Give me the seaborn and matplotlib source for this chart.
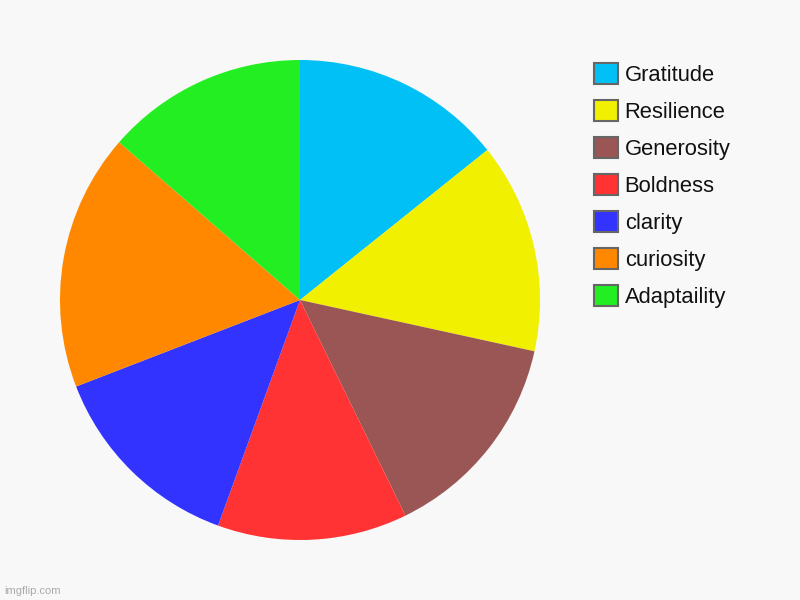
import matplotlib
matplotlib.use("Agg")
import matplotlib.pyplot as plt
import seaborn as sns
from matplotlib.patches import Patch

sns.set_theme(style="white")
plt.rcParams['font.family'] = ['Liberation Sans', 'DejaVu Sans']

labels = ["Gratitude", "Resilience", "Generosity", "Boldness", "clarity", "curiosity", "Adaptaility"]
values = [14.25, 14.17, 14.33, 12.78, 13.58, 17.28, 13.58]
colors = ["#00C0F5", "#F0F000", "#9A5555", "#FF3333", "#3333FF", "#FF8800", "#22EE22"]

bg = "#F8F8F8"
fig = plt.figure(figsize=(8, 6), dpi=100, facecolor=bg)
ax = fig.add_axes([60/800, 60/600, 480/800, 480/600])
ax.set_facecolor(bg)
wedges, _ = ax.pie(values, colors=colors, startangle=90, counterclock=False,
                   radius=1.0, wedgeprops=dict(linewidth=0))
ax.set_xlim(-1, 1)
ax.set_ylim(-1, 1)
ax.set_aspect('equal')
ax.axis('off')

handles = [Patch(facecolor=c, edgecolor="#666666", linewidth=1.5, label=l) for c, l in zip(colors, labels)]
leg = fig.legend(handles=handles, loc='upper left', bbox_to_anchor=(594/800, 1 - 63/600),
                 frameon=False, fontsize=15.8, handlelength=1.1, handleheight=1.12,
                 handletextpad=0.3, labelspacing=0.63, borderpad=0, borderaxespad=0)
for t in leg.get_texts():
    t.set_color("#111111")

fig.text(4/800, 1 - 591/600, "imgflip.com", fontsize=8, color="#AAAAAA", va='center', ha='left')

fig.savefig("out.png", dpi=100, facecolor=bg)
